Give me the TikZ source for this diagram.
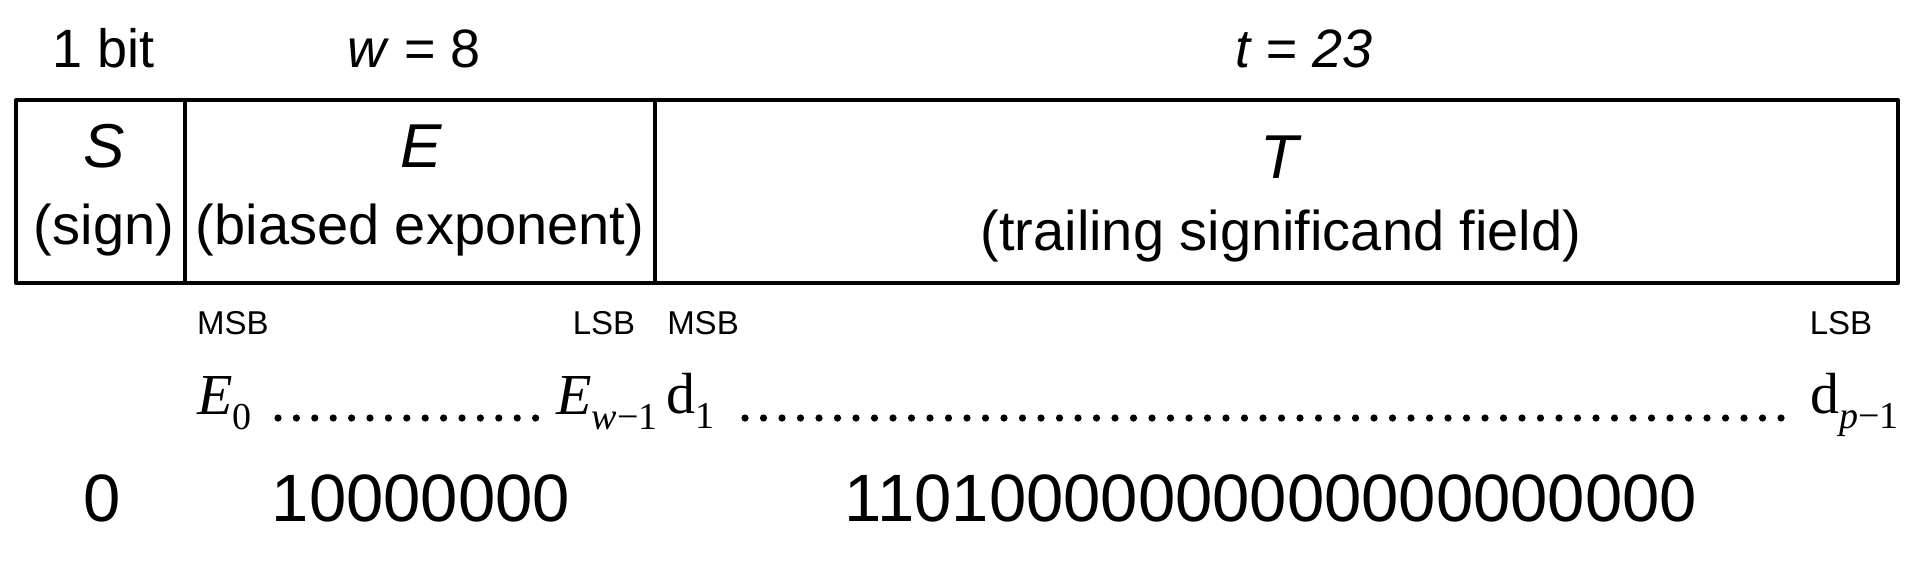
\documentclass[tikz,border=0pt]{standalone}
\usepackage{fontspec}
\setmainfont{Liberation Sans}
\newfontfamily\tms{Liberation Serif}
\newcommand\fsz[1]{\fontsize{#1}{#1}\selectfont}
\newcommand\esub[1]{\raisebox{-7.5pt}{\fsz{19}#1}}
\tikzset{
  lbl/.style={inner sep=0pt, anchor=base},
  toplbl/.style={lbl, font=\fsz{27}},
  fieldname/.style={lbl, font=\fsz{31}\itshape},
  fielddesc/.style={lbl, font=\fsz{28}},
  bitlbl/.style={lbl, font=\fsz{16.5}},
  emath/.style={inner sep=0pt, anchor=base west, font=\tms\fsz{29}},
  edots/.style={line width=3.6pt, line cap=round, dash pattern=on 0pt off 9.2pt},
  ddots/.style={line width=3.6pt, line cap=round, dash pattern=on 0pt off 9.25pt},
  bits/.style={lbl, font=\fsz{33.5}},
  frame/.style={line width=2pt, line join=round}
}
\begin{document}
\begin{tikzpicture}[x=0.5pt,y=-0.5pt]
\useasboundingbox (0,0) rectangle (1910,569);
% frame
\draw[frame] (16,100) rectangle (1898,283);
\draw[frame] (185,100) -- (185,283);
\draw[frame] (655,100) -- (655,283);
% top labels
\node[toplbl] (bit) at (104,67) {1 bit};
\node[toplbl] (w) at (414,67) {\textit{w} = 8};
\node[toplbl] (t) at (1304,67) {\textit{t = 23}};
% field labels
\node[fieldname] (S) at (104,167) {S};
\node[fielddesc] (sign) at (104,244) {(sign)};
\node[fieldname] (E) at (421,167) {E};
\node[fielddesc] (bexp) at (420,244) {(biased exponent)};
\node[fieldname] (T) at (1279,178) {T};
\node[fielddesc] (tsf) at (1281,250) {(trailing significand field)};
% MSB / LSB
\node[bitlbl] (msb1) at (233,334) {MSB};
\node[bitlbl] (lsb1) at (604,334) {LSB};
\node[bitlbl] (msb2) at (703,334) {MSB};
\node[bitlbl] (lsb2) at (1841,334) {LSB};
% bit names
\node[emath] (e0) at (197,414) {\textit{E}\esub{0}};
\node[emath] (ew) at (556,414) {\textit{E}\esub{\textit{w}−1}};
\node[emath] (d1) at (666,413) {d\esub{1}};
\node[emath] (dp) at (1810,413) {d\esub{\textit{p}−1}};
\coordinate (ea) at (278,418);
\coordinate (eb) at (538,418);
\coordinate (da) at (745,418);
\coordinate (db) at (1784,418);
\draw[edots] (ea) -- (eb);
\draw[ddots] (da) -- (db);
% bit values
\node[bits] (vs) at (102,521) {0};
\node[bits] (ve) at (421,521) {10000000};
\node[bits] (vt) at (1271,521) {11010000000000000000000};
\end{tikzpicture}
\end{document}
